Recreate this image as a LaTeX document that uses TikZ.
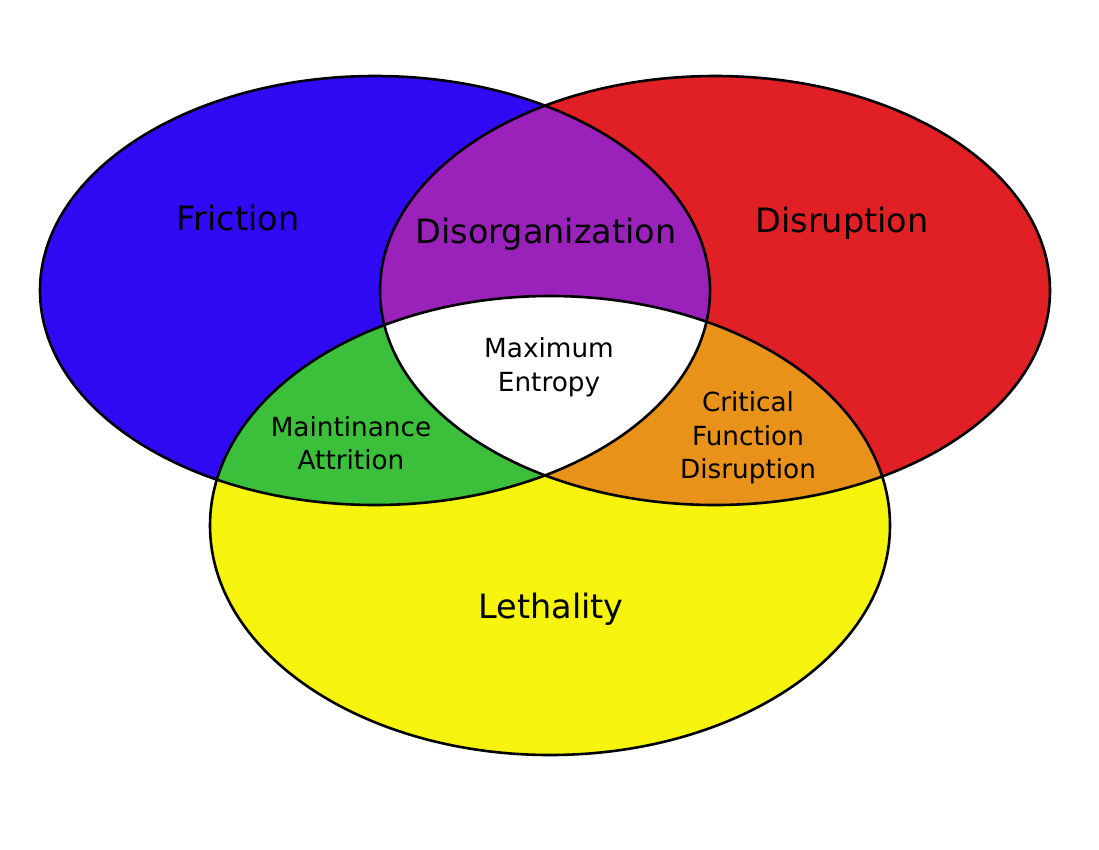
\documentclass[tikz,border=0pt]{standalone}
\usepackage{fontspec}
\setmainfont{DejaVu Sans}
\definecolor{cBlue}{HTML}{300AF5}
\definecolor{cRed}{HTML}{E02024}
\definecolor{cYellow}{HTML}{F6F40C}
\definecolor{cPurple}{HTML}{9A22BA}
\definecolor{cGreen}{HTML}{3CC03C}
\definecolor{cOrange}{HTML}{E8921A}
\begin{document}
\begin{tikzpicture}[x=1pt,y=-1pt,
  outline/.style={draw=black,line width=2.6pt},
  biglabel/.style={font=\fontsize{33.5}{40}\selectfont,inner sep=0pt,anchor=base},
  smalllabel/.style={font=\fontsize{26.3}{33.5}\selectfont,inner sep=0pt,align=center}]
\useasboundingbox[fill=white] (0,0) rectangle (1099,849);
\coordinate (cb) at (375,290.5);
\coordinate (cr) at (715,290.5);
\coordinate (cy) at (550,525.5);
\tikzset{
  eb/.style={insert path={(cb) ellipse [x radius=335pt,y radius=214.5pt]}},
  er/.style={insert path={(cr) ellipse [x radius=335pt,y radius=214.5pt]}},
  ey/.style={insert path={(cy) ellipse [x radius=340pt,y radius=229.5pt]}}}
% base fills
\fill[cBlue,eb];
\fill[cRed,er];
\fill[cYellow,ey];
% pairwise intersections
\begin{scope}\clip[eb]; \fill[cPurple,er]; \end{scope}
\begin{scope}\clip[eb]; \fill[cGreen,ey]; \end{scope}
\begin{scope}\clip[er]; \fill[cOrange,ey]; \end{scope}
% triple intersection
\begin{scope}\clip[eb]; \clip[er]; \fill[white,ey]; \end{scope}
% outlines
\draw[outline,eb];
\draw[outline,er];
\draw[outline,ey];
% labels
\node[biglabel] (friction) at (238,230) {Friction};
\node[biglabel] (disorg) at (546,243) {Disorganization};
\node[biglabel] (disrupt) at (842,232) {Disruption};
\node[biglabel] (leth) at (551,618) {Lethality};
\node[smalllabel] (maxent) at (549,367) {Maximum\\Entropy};
\node[smalllabel] (maint) at (351,443) {Maintinance\\Attrition};
\node[smalllabel] (crit) at (748,438) {Critical\\Function\\Disruption};
\end{tikzpicture}
\end{document}
